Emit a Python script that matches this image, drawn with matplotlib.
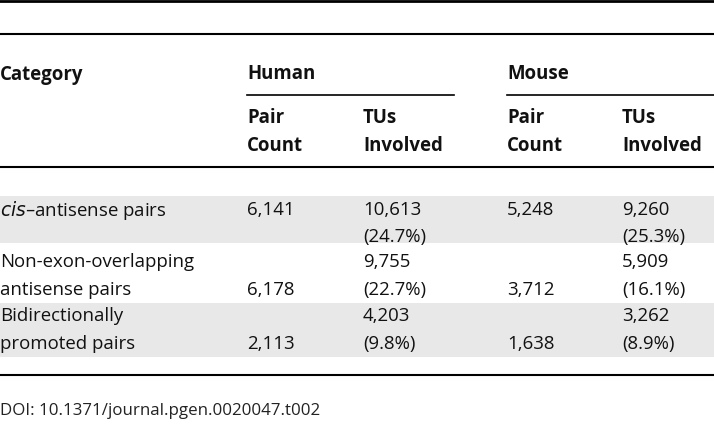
import matplotlib
matplotlib.use("Agg")
import matplotlib.pyplot as plt
from matplotlib.patches import Rectangle

categories = [["$\\it{cis}$–antisense pairs"], ["Non-exon-overlapping", "antisense pairs"], ["Bidirectionally", "promoted pairs"]]
human_pairs = ["6,141", "6,178", "2,113"]
human_tus = ["10,613", "9,755", "4,203"]
human_pct = ["(24.7%)", "(22.7%)", "(9.8%)"]
mouse_pairs = ["5,248", "3,712", "1,638"]
mouse_tus = ["9,260", "5,909", "3,262"]
mouse_pct = ["(25.3%)", "(16.1%)", "(8.9%)"]

W, H = 714, 428
fig = plt.figure(figsize=(W/100, H/100), dpi=100)
ax = fig.add_axes([0, 0, 1, 1])
ax.set_xlim(0, W); ax.set_ylim(H, 0); ax.axis("off")
FONT = "Open Sans"; FS = 13.4
def t(x, y, s, bold=False):
    ax.text(x, y, s, fontsize=FS, fontfamily=FONT, fontweight="bold" if bold else "normal",
            va="center", ha="left", color="#111")

ax.add_patch(Rectangle((0, 196), W, 47, color="#e8e8e8", lw=0))
ax.add_patch(Rectangle((0, 303), W, 54, color="#e8e8e8", lw=0))
for y, lw in [(1, 2), (34, 1.5), (167, 1.5), (375, 1.5)]:
    ax.plot([0, W], [y, y], color="black", lw=lw)
ax.plot([247, 454], [95, 95], color="black", lw=1.2)
ax.plot([507, W], [95, 95], color="black", lw=1.2)

cx = [0, 247, 363, 507, 622]
t(cx[0], 75, "Category", True)
t(cx[1], 74, "Human", True)
t(cx[3], 74, "Mouse", True)
for i in (1, 3):
    t(cx[i], 118, "Pair", True); t(cx[i], 146, "Count", True)
    t(cx[i+1], 118, "TUs", True); t(cx[i+1], 146, "Involved", True)

rows = [(210, 237), (262, 290), (316, 344)]
for k, (y1, y2) in enumerate(rows):
    cat = categories[k]
    if len(cat) == 1:
        t(cx[0], y1, cat[0]); yp = y1
    else:
        t(cx[0], y1, cat[0]); t(cx[0], y2, cat[1]); yp = y2
    t(cx[1], yp, human_pairs[k]); t(cx[3], yp, mouse_pairs[k])
    t(cx[2], y1, human_tus[k]); t(cx[2], y2, human_pct[k])
    t(cx[4], y1, mouse_tus[k]); t(cx[4], y2, mouse_pct[k])

ax.text(0, 411, "DOI: 10.1371/journal.pgen.0020047.t002", fontsize=12.2, fontfamily=FONT,
        va="center", ha="left", color="#222")
fig.savefig("out.png", dpi=100)
